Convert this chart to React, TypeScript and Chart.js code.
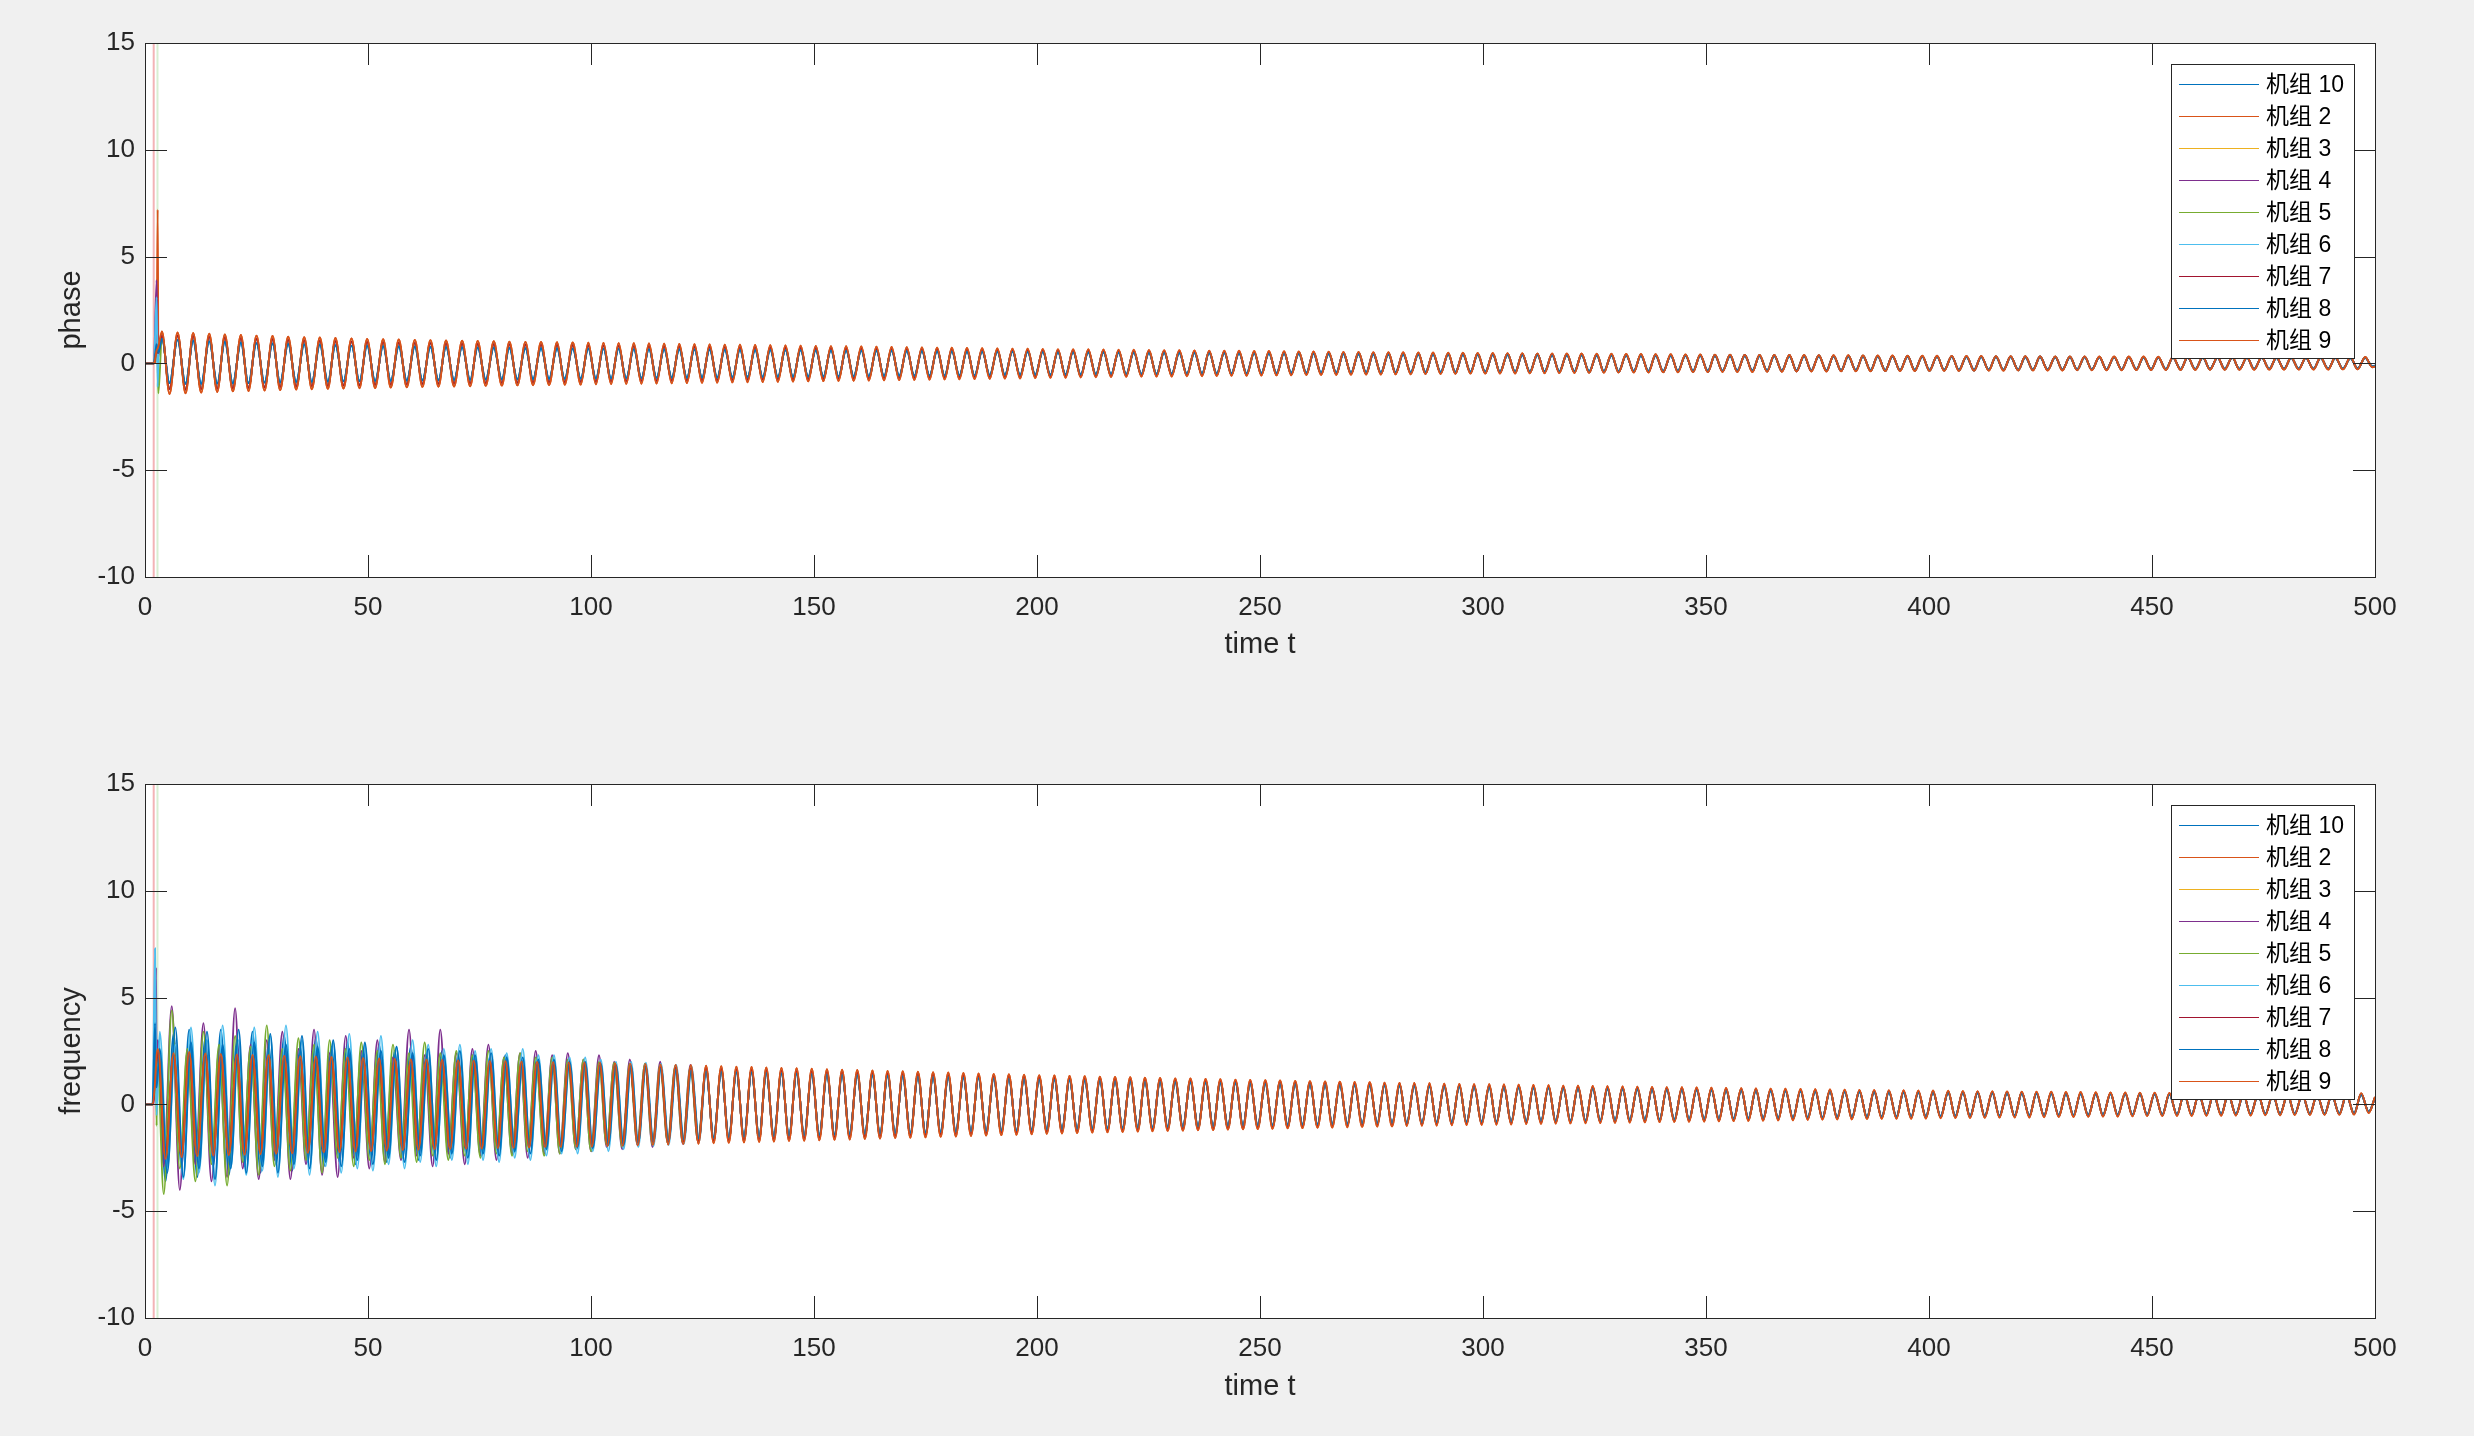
import React, { useEffect, useRef } from 'react';
import { Chart, registerables } from 'chart.js';

Chart.register(...registerables);

// ---------- categories / labels ----------
const seriesNames = ['机组 10', '机组 2', '机组 3', '机组 4', '机组 5', '机组 6', '机组 7', '机组 8', '机组 9'];
const seriesColors = ['#0072BD', '#D95319', '#EDB120', '#7E2F8E', '#77AC30', '#4DBEEE', '#A2142F', '#0072BD', '#D95319'];
const xTickValues = [0, 50, 100, 150, 200, 250, 300, 350, 400, 450, 500];
const yTickValues = [-10, -5, 0, 5, 10, 15];

// near-vertical out-of-range excursions at the start (faint lines)
const spikeT = [1.95, 2.8];
const spikeSpan = [-1000, 1000];
const spikeColors = ['#f3b3b6', '#d8eed2'];

// ---------- phase: start-up samples ----------
const phStartT = [0, 2.0, 2.6, 2.84, 3.0];
const phStart10 = [0, 0, 1.0, 0.6, 0.5];
const phStart2 = [0, 0, 0.5, 7.2, 0.3];
const phStart3 = [0, 0, 0.8, 0.6, 0.5];
const phStart4 = [0, 0, 3.9, 0.6, 0.4];
const phStart5 = [0, 0, 0.8, 0.2, -1.4];
const phStart6 = [0, 0, 3.1, -1.1, 0.3];
const phStart7 = [0, 0, 0.6, 0.5, 0.5];
const phStart8 = [0, 0, 0.9, 0.6, 0.5];
const phStart9 = [0, 0, 0.6, 0.7, 0.8];

// ---------- phase: times of successive peaks / troughs ----------
const tPhase = [
  3.8,5.5,7.3,9.1,10.8,12.6,14.4,16.2,17.9,19.7,21.5,23.2,25.0,26.8,28.6,30.3,32.1,33.9,35.7,37.4,39.2,41.0,42.7,44.5,46.3,48.1,49.8,51.6,53.4,55.1,56.9,58.7,60.5,62.2,64.0,65.8,67.5,69.3,71.1,72.9,74.6,76.4,78.2,80.0,81.7,83.5,85.3,87.0,88.8,90.6,92.4,94.1,95.9,97.7,99.4,101.1,
  102.8,104.5,106.2,107.9,109.6,111.3,113.0,114.7,116.4,118.1,119.8,121.5,123.2,124.9,126.6,128.3,130.0,131.7,133.4,135.1,136.8,138.5,140.2,141.9,143.6,145.3,147.0,148.7,150.4,152.1,153.8,155.5,157.2,158.9,160.6,162.3,164.0,165.7,167.4,169.1,170.8,172.5,174.2,175.9,177.6,179.3,180.9,182.6,184.3,186.0,187.7,189.4,191.1,192.8,194.5,196.2,197.9,199.6,201.3,203.0,204.7,206.4,208.1,209.8,211.5,213.2,214.9,216.6,218.3,220.0,221.7,223.4,225.1,226.8,228.5,230.2,231.9,233.6,
  235.3,237.0,238.6,240.3,242.0,243.6,245.3,247.0,248.7,250.3,252.0,253.7,255.4,257.0,258.7,260.4,262.0,263.7,265.4,267.1,268.7,270.4,272.1,273.8,275.4,277.1,278.8,280.4,282.1,283.8,285.5,287.1,288.8,290.5,292.2,293.8,295.5,297.2,298.8,300.5,
  302.2,303.8,305.5,307.2,308.8,310.5,312.2,313.8,315.5,317.1,318.8,320.5,322.1,323.8,325.5,327.1,328.8,330.4,332.1,333.8,335.4,337.1,338.7,340.4,342.1,343.7,345.4,347.1,348.7,350.4,352.0,353.7,355.4,357.0,358.7,360.4,362.0,363.7,365.3,367.0,368.7,370.3,
  372.0,373.6,375.3,377.0,378.6,380.3,381.9,383.6,385.2,386.9,388.5,390.2,391.8,393.5,395.2,396.8,398.5,400.1,401.8,403.4,405.1,406.7,408.4,410.1,411.7,413.4,415.0,416.7,418.3,420.0,421.6,423.3,424.9,426.6,428.3,429.9,431.6,433.2,434.9,436.5,438.2,439.8,441.5,443.2,444.8,446.5,448.1,449.8,451.4,453.1,454.7,456.4,458.0,459.7,461.4,463.0,464.7,466.3,468.0,469.6,471.3,472.9,474.6,476.3,477.9,479.6,481.2,482.9,484.5,486.2,487.8,489.5,491.1,492.8,494.5,496.1,497.8,499.4,
  500,
];

// outer (orange) phase swing
const pOut = [
  1.49,-1.43,1.45,-1.4,1.42,-1.37,1.39,-1.34,1.36,-1.31,1.33,-1.29,1.3,-1.27,1.28,-1.25,1.25,-1.23,1.23,-1.21,1.21,-1.19,1.19,-1.18,1.17,-1.16,1.15,-1.15,1.13,-1.13,1.12,-1.12,1.1,-1.1,1.09,-1.09,1.07,-1.08,1.06,-1.07,1.05,-1.05,1.04,-1.04,1.02,-1.03,1.01,-1.02,1,-1.01,0.99,-1,0.98,-0.99,0.97,-0.98,
  0.96,-0.97,0.95,-0.96,0.94,-0.95,0.93,-0.94,0.92,-0.93,0.91,-0.92,0.9,-0.91,0.89,-0.9,0.88,-0.89,0.87,-0.88,0.86,-0.87,0.85,-0.86,0.84,-0.85,0.83,-0.84,0.82,-0.83,0.81,-0.82,0.8,-0.81,0.79,-0.8,0.78,-0.79,0.77,-0.78,0.76,-0.77,0.75,-0.76,0.74,-0.75,0.73,-0.74,0.72,-0.73,0.71,-0.72,0.7,-0.71,0.69,-0.7,0.69,-0.69,0.68,-0.68,0.67,-0.67,0.66,-0.66,0.66,-0.65,0.65,-0.64,0.64,-0.63,0.64,-0.62,0.63,-0.62,0.62,-0.61,0.62,-0.6,
  0.61,-0.6,0.6,-0.59,0.6,-0.58,0.59,-0.58,0.58,-0.57,0.58,-0.56,0.57,-0.56,0.56,-0.55,0.56,-0.54,0.55,-0.54,0.54,-0.53,0.54,-0.52,0.53,-0.52,0.52,-0.51,0.52,-0.51,0.51,-0.5,0.51,-0.5,0.5,-0.49,0.5,-0.48,0.49,-0.48,
  0.49,-0.47,0.48,-0.47,0.48,-0.46,0.47,-0.46,0.47,-0.45,0.46,-0.45,0.46,-0.44,0.45,-0.44,0.45,-0.43,0.44,-0.43,0.44,-0.43,0.43,-0.42,0.43,-0.42,0.42,-0.41,0.42,-0.41,0.41,-0.4,0.41,-0.4,0.4,-0.4,0.4,-0.39,0.4,-0.39,0.39,-0.38,
  0.39,-0.38,0.38,-0.38,0.38,-0.37,0.38,-0.37,0.37,-0.37,0.37,-0.36,0.37,-0.36,0.36,-0.36,0.36,-0.35,0.36,-0.35,0.35,-0.35,0.35,-0.34,0.35,-0.34,0.34,-0.34,0.34,-0.33,0.34,-0.33,0.33,-0.33,0.33,-0.33,0.33,-0.32,0.33,-0.32,0.32,-0.32,0.32,-0.32,0.32,-0.31,0.32,-0.31,0.31,-0.31,0.31,-0.31,0.31,-0.3,0.31,-0.3,0.3,-0.3,0.3,-0.3,0.3,-0.3,0.3,-0.29,0.3,-0.29,0.29,-0.29,0.29,-0.29,0.29,-0.29,0.29,-0.28,0.29,-0.28,0.3,-0.18,
  -0.14,
];

// middle phase swing (units 3-7)
const pMid = [
  1.3,-1.2,1.3,-1.22,1.27,-1.2,1.24,-1.18,1.21,-1.16,1.18,-1.14,1.15,-1.12,1.13,-1.1,1.1,-1.08,1.08,-1.06,1.06,-1.05,1.04,-1.03,1.02,-1.02,1,-1,0.99,-0.99,0.97,-0.98,0.96,-0.96,0.95,-0.95,0.93,-0.94,0.92,-0.93,0.91,-0.92,0.9,-0.91,0.89,-0.9,0.88,-0.89,0.87,-0.88,0.86,-0.87,0.85,-0.86,0.84,-0.85,
  0.83,-0.84,0.82,-0.83,0.81,-0.82,0.8,-0.81,0.79,-0.8,0.79,-0.79,0.78,-0.78,0.77,-0.78,0.76,-0.77,0.75,-0.76,0.75,-0.75,0.74,-0.74,0.73,-0.74,0.72,-0.73,0.71,-0.72,0.71,-0.71,0.7,-0.7,0.69,-0.7,0.68,-0.69,0.68,-0.68,0.67,-0.67,0.66,-0.66,0.66,-0.66,0.65,-0.65,0.64,-0.64,0.64,-0.63,0.63,-0.63,0.62,-0.62,0.62,-0.61,0.61,-0.61,0.6,-0.6,0.6,-0.59,0.59,-0.58,0.59,-0.58,0.58,-0.57,0.57,-0.56,0.57,-0.56,0.56,-0.55,0.56,-0.55,
  0.55,-0.54,0.55,-0.54,0.54,-0.53,0.54,-0.53,0.53,-0.52,0.53,-0.52,0.52,-0.51,0.52,-0.51,0.51,-0.5,0.51,-0.5,0.5,-0.49,0.5,-0.49,0.49,-0.48,0.49,-0.48,0.48,-0.47,0.48,-0.47,0.47,-0.46,0.47,-0.46,0.46,-0.45,0.46,-0.45,
  0.45,-0.44,0.45,-0.44,0.44,-0.43,0.44,-0.43,0.43,-0.42,0.43,-0.42,0.43,-0.42,0.42,-0.41,0.42,-0.41,0.41,-0.4,0.41,-0.4,0.41,-0.4,0.4,-0.39,0.4,-0.39,0.4,-0.39,0.39,-0.38,0.39,-0.38,0.39,-0.38,0.38,-0.37,0.38,-0.37,0.38,-0.37,
  0.37,-0.36,0.37,-0.36,0.36,-0.36,0.36,-0.35,0.36,-0.35,0.35,-0.35,0.35,-0.34,0.35,-0.34,0.34,-0.34,0.34,-0.33,0.34,-0.33,0.33,-0.33,0.33,-0.32,0.33,-0.32,0.32,-0.32,0.32,-0.31,0.32,-0.31,0.31,-0.31,0.31,-0.3,0.31,-0.3,0.3,-0.3,0.3,-0.3,0.3,-0.29,0.3,-0.29,0.29,-0.29,0.29,-0.29,0.29,-0.28,0.29,-0.28,0.28,-0.28,0.28,-0.28,0.28,-0.27,0.28,-0.27,0.28,-0.27,0.27,-0.27,0.27,-0.27,0.27,-0.26,0.27,-0.26,0.27,-0.26,0.28,-0.16,
  -0.13,
];

// inner (blue) phase swing
const pIn = [
  1.16,-0.92,1.1,-0.95,1.06,-0.95,1.03,-0.94,1,-0.93,0.97,-0.92,0.95,-0.9,0.93,-0.89,0.91,-0.87,0.89,-0.86,0.87,-0.85,0.85,-0.84,0.83,-0.83,0.82,-0.82,0.8,-0.81,0.79,-0.8,0.78,-0.79,0.77,-0.78,0.76,-0.77,0.75,-0.76,0.74,-0.75,0.73,-0.74,0.72,-0.74,0.71,-0.73,0.71,-0.72,0.7,-0.72,0.69,-0.71,0.69,-0.7,
  0.68,-0.7,0.68,-0.69,0.67,-0.69,0.67,-0.68,0.66,-0.67,0.66,-0.67,0.65,-0.66,0.65,-0.66,0.64,-0.65,0.64,-0.64,0.63,-0.64,0.63,-0.63,0.62,-0.63,0.62,-0.62,0.61,-0.61,0.61,-0.61,0.6,-0.6,0.6,-0.6,0.59,-0.59,0.59,-0.58,0.58,-0.58,0.58,-0.57,0.57,-0.57,0.57,-0.56,0.56,-0.56,0.56,-0.55,0.55,-0.54,0.55,-0.54,0.54,-0.53,0.54,-0.53,0.53,-0.52,0.53,-0.52,0.52,-0.51,0.52,-0.5,0.51,-0.5,0.51,-0.49,0.5,-0.49,0.5,-0.48,0.49,-0.48,
  0.49,-0.47,0.48,-0.47,0.48,-0.46,0.47,-0.46,0.47,-0.45,0.46,-0.45,0.46,-0.44,0.45,-0.44,0.45,-0.43,0.44,-0.43,0.44,-0.43,0.43,-0.42,0.43,-0.42,0.42,-0.41,0.42,-0.41,0.42,-0.4,0.41,-0.4,0.41,-0.4,0.4,-0.39,0.4,-0.39,
  0.4,-0.38,0.39,-0.38,0.39,-0.38,0.39,-0.37,0.38,-0.37,0.38,-0.37,0.38,-0.36,0.37,-0.36,0.37,-0.36,0.37,-0.35,0.36,-0.35,0.36,-0.35,0.36,-0.34,0.35,-0.34,0.35,-0.34,0.35,-0.34,0.34,-0.33,0.34,-0.33,0.34,-0.33,0.34,-0.33,0.33,-0.32,
  0.33,-0.32,0.33,-0.32,0.33,-0.32,0.32,-0.31,0.32,-0.31,0.32,-0.31,0.32,-0.31,0.31,-0.3,0.31,-0.3,0.31,-0.3,0.31,-0.3,0.3,-0.29,0.3,-0.29,0.3,-0.29,0.3,-0.29,0.29,-0.28,0.29,-0.28,0.29,-0.28,0.29,-0.28,0.28,-0.27,0.28,-0.27,0.28,-0.27,0.28,-0.27,0.27,-0.26,0.27,-0.26,0.27,-0.26,0.27,-0.26,0.26,-0.25,0.26,-0.25,0.26,-0.25,0.26,-0.25,0.26,-0.25,0.25,-0.24,0.25,-0.24,0.25,-0.24,0.25,-0.24,0.25,-0.24,0.24,-0.24,0.26,-0.14,
  -0.11,
];

// ---------- frequency: start-up samples ----------
const frStartT = [0, 1.7, 2.25, 2.47, 2.6];
const frStart10 = [0, 0, 2.0, 1.5, 0.5];
const frStart2 = [0, 0, 1.0, 2.0, 2.4];
const frStart3 = [0, 0, 1.5, 2.0, 2.2];
const frStart4 = [0, 0, 1.5, 6.4, 1.0];
const frStart5 = [0, 0, 2.0, 1.5, -1.0];
const frStart6 = [0, 0, 7.3, 2.0, -0.5];
const frStart7 = [0, 0, 1.2, 1.8, 2.0];
const frStart8 = [0, 0, 3.8, 1.0, 0.8];
const frStart9 = [0, 0, 1.0, 1.8, 2.3];

// ---------- frequency: times of successive peaks / troughs ----------
const tFreq = [
  2.9,4.6,6.4,8.2,9.9,11.7,13.5,15.3,17.0,18.8,20.6,22.3,24.1,25.9,27.7,29.4,31.2,33.0,34.8,36.5,38.3,40.1,41.8,43.6,45.4,47.2,48.9,50.7,52.5,54.2,56.0,57.8,59.6,61.3,63.1,64.9,66.6,68.4,70.2,72.0,73.7,75.5,77.3,79.1,80.8,82.6,84.4,86.1,87.9,89.7,91.5,93.2,95.0,96.8,98.5,100.2,
  102.0,103.7,105.4,107.1,108.8,110.5,112.2,113.9,115.6,117.3,119.0,120.7,122.4,124.1,125.8,127.5,129.2,130.9,132.6,134.3,136.0,137.7,139.3,141.0,142.7,144.4,146.1,147.8,149.5,151.2,152.9,154.6,156.3,158.0,159.7,161.4,163.1,164.8,166.5,168.2,169.9,171.6,173.3,175.0,176.7,178.4,180.1,181.8,183.5,185.2,186.9,188.6,190.3,192.0,193.7,195.4,197.1,198.8,200.5,202.2,203.9,205.6,207.3,209.0,210.7,212.4,214.1,215.8,217.5,219.2,220.9,222.6,224.2,225.9,227.6,229.3,231.0,232.7,
  234.4,236.1,237.8,239.5,241.1,242.8,244.5,246.2,247.8,249.5,251.2,252.8,254.5,256.2,257.9,259.5,261.2,262.9,264.6,266.2,267.9,269.6,271.2,272.9,274.6,276.3,277.9,279.6,281.3,282.9,284.6,286.3,288.0,289.6,291.3,293.0,294.7,296.3,298.0,299.7,
  301.4,303.0,304.7,306.3,308.0,309.7,311.3,313.0,314.7,316.3,318.0,319.6,321.3,323.0,324.6,326.3,327.9,329.6,331.3,332.9,334.6,336.3,337.9,339.6,341.2,342.9,344.6,346.2,347.9,349.6,351.2,352.9,354.5,356.2,357.9,359.5,361.2,362.8,364.5,366.2,367.8,369.5,
  371.2,372.8,374.5,376.1,377.8,379.4,381.1,382.7,384.4,386.1,387.7,389.4,391.0,392.7,394.3,396.0,397.6,399.3,400.9,402.6,404.3,405.9,407.6,409.2,410.9,412.5,414.2,415.8,417.5,419.2,420.8,422.5,424.1,425.8,427.4,429.1,430.7,432.4,434.0,435.7,437.4,439.0,440.7,442.3,444.0,445.6,447.3,448.9,450.6,452.3,453.9,455.6,457.2,458.9,460.5,462.2,463.8,465.5,467.1,468.8,470.5,472.1,473.8,475.4,477.1,478.7,480.4,482.0,483.7,485.4,487.0,488.7,490.3,492.0,493.6,495.3,496.9,498.6,
  500,
];

// early extrema times of units that run slightly ahead / behind the common swing
const tFreqLead = [2.75,4.2,6.0,7.8,9.5,11.3,13.1,14.9,16.6,18.4,20.2,21.9,23.7,25.5,27.3,29.0,30.8,32.6,34.4,36.1,37.9,39.7,41.4,43.2,45.0,46.8,48.5,50.3,52.1,53.8,55.6,57.4,59.2,60.9,62.7,64.5,66.2,68.0,69.8,71.7,73.4,75.2,77.0,78.8,80.5,82.3,84.1,85.8,87.6,89.5,91.3,93.0,94.8,96.6,98.3,100.0,101.8,103.5,105.2,107.0,108.7,110.4,112.1,113.8,115.5,117.2,118.9,120.6,122.3,124.0];
const tFreqLag = [3.3,5.0,6.8,8.6,10.3,12.1,13.9,15.7,17.4,19.2,21.0,22.7,24.5,26.3,28.1,29.8,31.6,33.4,35.2,36.9,38.7,40.5,42.2,44.0,45.8,47.6,49.3,51.1,52.9,54.6,56.4,58.2,60.0,61.7,63.5,65.3,67.0,68.8,70.6,72.4,74.0,75.8,77.6,79.4,81.1,82.9,84.7,86.4,88.2,90.0,91.7,93.4,95.2,97.0,98.7,100.4,102.2,103.9,105.6,107.3,109.0,110.6,112.3,114.0,115.7,117.4,119.1,120.8,122.5,124.2];

// outer (orange) frequency swing
const fOut = [
  2.6,-2.55,2.4,-2.47,2.45,-2.42,2.38,-2.4,2.36,-2.38,2.34,-2.36,2.32,-2.33,2.3,-2.31,2.28,-2.29,2.26,-2.27,2.24,-2.25,2.22,-2.23,2.2,-2.21,2.18,-2.19,2.16,-2.17,2.14,-2.15,2.12,-2.13,2.1,-2.11,2.09,-2.1,2.07,-2.08,2.06,-2.07,2.04,-2.05,2.03,-2.04,2.01,-2.02,2,-2.01,1.99,-2,1.98,-1.99,1.97,-1.98,
  1.95,-1.96,1.93,-1.94,1.91,-1.92,1.89,-1.9,1.87,-1.88,1.85,-1.86,1.83,-1.84,1.81,-1.82,1.79,-1.8,1.77,-1.78,1.75,-1.76,1.73,-1.74,1.71,-1.72,1.69,-1.7,1.67,-1.68,1.65,-1.66,1.63,-1.64,1.61,-1.62,1.59,-1.6,1.57,-1.58,1.55,-1.56,1.53,-1.54,1.51,-1.52,1.49,-1.5,1.47,-1.48,1.45,-1.46,1.43,-1.44,1.41,-1.42,1.39,-1.4,1.37,-1.38,1.35,-1.36,1.33,-1.34,1.32,-1.32,1.3,-1.31,1.28,-1.29,1.27,-1.27,1.25,-1.26,1.24,-1.24,1.22,-1.23,
  1.21,-1.21,1.19,-1.2,1.18,-1.18,1.16,-1.17,1.15,-1.15,1.13,-1.14,1.12,-1.12,1.1,-1.11,1.09,-1.09,1.08,-1.08,1.06,-1.07,1.05,-1.05,1.04,-1.04,1.02,-1.03,1.01,-1.01,1,-1,0.99,-0.99,0.97,-0.98,0.96,-0.97,0.95,-0.96,
  0.94,-0.95,0.93,-0.94,0.92,-0.92,0.91,-0.91,0.9,-0.9,0.88,-0.89,0.87,-0.88,0.86,-0.87,0.85,-0.86,0.84,-0.85,0.83,-0.84,0.82,-0.83,0.81,-0.82,0.8,-0.81,0.79,-0.8,0.78,-0.79,0.77,-0.78,0.76,-0.77,0.75,-0.76,0.74,-0.75,0.73,-0.74,
  0.72,-0.72,0.71,-0.71,0.7,-0.7,0.69,-0.7,0.68,-0.69,0.68,-0.68,0.67,-0.67,0.66,-0.67,0.65,-0.66,0.65,-0.65,0.64,-0.64,0.63,-0.64,0.62,-0.63,0.62,-0.62,0.61,-0.61,0.6,-0.61,0.6,-0.6,0.59,-0.59,0.58,-0.59,0.58,-0.58,0.57,-0.57,0.56,-0.57,0.56,-0.56,0.55,-0.55,0.55,-0.55,0.54,-0.54,0.54,-0.54,0.53,-0.53,0.53,-0.53,0.52,-0.52,0.52,-0.52,0.51,-0.51,0.51,-0.51,0.5,-0.5,0.5,-0.5,0.49,-0.49,0.49,-0.49,0.49,-0.48,0.53,-0.4,
  0.35,
];

// middle frequency swing
const fMid = [
  2.45,-2.4,2.3,-2.32,2.3,-2.28,2.24,-2.26,2.22,-2.24,2.2,-2.22,2.18,-2.19,2.16,-2.17,2.14,-2.15,2.12,-2.13,2.1,-2.11,2.08,-2.09,2.06,-2.07,2.04,-2.05,2.02,-2.03,2,-2.01,1.98,-1.99,1.96,-1.97,1.95,-1.96,1.93,-1.94,1.92,-1.93,1.9,-1.91,1.89,-1.9,1.87,-1.88,1.86,-1.87,1.85,-1.86,1.84,-1.85,1.83,-1.84,
  1.82,-1.83,1.8,-1.81,1.78,-1.79,1.76,-1.77,1.74,-1.75,1.72,-1.73,1.7,-1.71,1.68,-1.69,1.66,-1.67,1.64,-1.65,1.62,-1.63,1.6,-1.61,1.58,-1.59,1.56,-1.57,1.54,-1.55,1.52,-1.53,1.5,-1.51,1.48,-1.49,1.47,-1.48,1.45,-1.46,1.43,-1.44,1.41,-1.42,1.39,-1.4,1.37,-1.38,1.35,-1.36,1.33,-1.34,1.31,-1.32,1.3,-1.31,1.28,-1.29,1.26,-1.27,1.25,-1.26,1.23,-1.24,1.22,-1.22,1.2,-1.21,1.18,-1.19,1.17,-1.17,1.15,-1.16,1.14,-1.14,1.13,-1.13,
  1.12,-1.12,1.1,-1.11,1.09,-1.09,1.07,-1.08,1.06,-1.06,1.05,-1.05,1.04,-1.04,1.02,-1.03,1.01,-1.01,1,-1,0.98,-0.99,0.97,-0.97,0.96,-0.96,0.95,-0.95,0.94,-0.94,0.93,-0.93,0.92,-0.92,0.9,-0.91,0.89,-0.9,0.88,-0.89,
  0.87,-0.88,0.86,-0.87,0.85,-0.85,0.84,-0.84,0.83,-0.83,0.82,-0.82,0.81,-0.81,0.8,-0.81,0.79,-0.8,0.78,-0.79,0.77,-0.78,0.76,-0.77,0.75,-0.76,0.74,-0.75,0.73,-0.74,0.72,-0.73,0.71,-0.72,0.71,-0.71,0.7,-0.7,0.69,-0.69,0.68,-0.68,
  0.67,-0.67,0.66,-0.66,0.65,-0.65,0.64,-0.65,0.63,-0.64,0.63,-0.63,0.62,-0.62,0.61,-0.62,0.6,-0.61,0.6,-0.6,0.59,-0.59,0.58,-0.59,0.58,-0.58,0.57,-0.57,0.56,-0.57,0.56,-0.56,0.55,-0.55,0.55,-0.55,0.54,-0.54,0.53,-0.54,0.53,-0.53,0.52,-0.52,0.52,-0.52,0.51,-0.51,0.51,-0.51,0.5,-0.5,0.5,-0.5,0.49,-0.49,0.49,-0.49,0.48,-0.48,0.48,-0.48,0.47,-0.47,0.47,-0.47,0.46,-0.46,0.46,-0.46,0.46,-0.46,0.45,-0.45,0.45,-0.45,0.49,-0.37,
  0.32,
];

// inner (blue) frequency swing
const fIn = [
  2.2,-2.15,2.05,-2.1,2.08,-2.06,2.02,-2.04,2,-2.02,1.99,-2,1.97,-1.98,1.95,-1.96,1.94,-1.95,1.92,-1.93,1.9,-1.91,1.89,-1.9,1.87,-1.88,1.85,-1.86,1.84,-1.84,1.82,-1.83,1.8,-1.81,1.79,-1.79,1.78,-1.78,1.76,-1.77,1.75,-1.76,1.73,-1.74,1.72,-1.73,1.71,-1.72,1.7,-1.71,1.69,-1.7,1.68,-1.69,1.67,-1.68,
  1.66,-1.67,1.64,-1.65,1.62,-1.63,1.61,-1.62,1.59,-1.6,1.57,-1.58,1.56,-1.56,1.54,-1.55,1.52,-1.53,1.5,-1.51,1.49,-1.5,1.47,-1.48,1.45,-1.46,1.44,-1.45,1.42,-1.43,1.4,-1.41,1.39,-1.39,1.37,-1.38,1.35,-1.36,1.33,-1.34,1.32,-1.33,1.3,-1.31,1.28,-1.29,1.27,-1.28,1.25,-1.26,1.23,-1.24,1.22,-1.22,1.2,-1.21,1.18,-1.19,1.16,-1.17,1.15,-1.16,1.13,-1.14,1.12,-1.12,1.11,-1.11,1.09,-1.1,1.08,-1.08,1.06,-1.07,1.05,-1.05,1.04,-1.04,
  1.03,-1.03,1.01,-1.02,1,-1,0.99,-0.99,0.98,-0.98,0.96,-0.97,0.95,-0.95,0.94,-0.94,0.93,-0.93,0.92,-0.92,0.9,-0.91,0.89,-0.89,0.88,-0.88,0.87,-0.87,0.86,-0.86,0.85,-0.85,0.84,-0.84,0.83,-0.83,0.82,-0.82,0.81,-0.81,
  0.8,-0.81,0.79,-0.8,0.78,-0.78,0.77,-0.77,0.77,-0.77,0.75,-0.76,0.74,-0.75,0.73,-0.74,0.72,-0.73,0.71,-0.72,0.71,-0.71,0.7,-0.71,0.69,-0.7,0.68,-0.69,0.67,-0.68,0.66,-0.67,0.65,-0.66,0.65,-0.65,0.64,-0.65,0.63,-0.64,0.62,-0.63,
  0.61,-0.61,0.6,-0.6,0.6,-0.6,0.59,-0.59,0.58,-0.59,0.58,-0.58,0.57,-0.57,0.56,-0.57,0.55,-0.56,0.55,-0.55,0.54,-0.54,0.54,-0.54,0.53,-0.54,0.53,-0.53,0.52,-0.52,0.51,-0.52,0.51,-0.51,0.5,-0.5,0.49,-0.5,0.49,-0.49,0.48,-0.48,0.48,-0.48,0.48,-0.48,0.47,-0.47,0.47,-0.47,0.46,-0.46,0.46,-0.46,0.45,-0.45,0.45,-0.45,0.44,-0.44,0.44,-0.44,0.43,-0.43,0.43,-0.43,0.43,-0.43,0.43,-0.43,0.42,-0.42,0.42,-0.42,0.42,-0.41,0.45,-0.34,
  0.3,
];

// irregular early swings (first 70 extrema) of individual units
const fEarly4 = [3,-2.9,4.6,-4,2.5,-2.8,3.8,-3.6,2.6,-3.4,4.5,-3,2.8,-3.5,3,-2.6,3.4,-3.5,2.6,-2.8,3.5,-3.3,2.4,-3.4,3.2,-2.5,2.5,-3,3,-2.7,2.2,-2.6,3.5,-2.4,2.3,-2.9,3.5,-2.3,2.4,-2.8,2.6,-2.4,2.8,-2.6,2.2,-2.3,2.4,-2.5,2.5,-2.3,2.3,-2.3,2.4,-2.1,2.1,-2.2,2.3,-2,2,-2.1,2.1,-1.9,1.9,-2,2,-1.8,1.8,-1.85,1.85,-1.75];
const fEarly6 = [3.4,-3,2.8,-3.5,3.6,-3.2,3,-3.8,3.7,-3,3,-3.3,3.6,-3.1,3.2,-3.4,3.7,-3,3,-3.3,3.4,-2.9,2.9,-3.2,3.3,-3,2.8,-3.1,3.2,-2.8,2.7,-3,3,-2.7,2.8,-2.9,2.6,-2.6,2.8,-2.8,2.5,-2.6,2.6,-2.7,2.4,-2.5,2.6,-2.6,2.3,-2.4,2.3,-2.3,2.2,-2.3,2.2,-2.2,2.1,-2.2,2,-2.1,2,-2,1.95,-1.95,1.9,-1.9,1.85,-1.85,1.8,-1.75];
const fEarly5 = [2.4,-4.2,4.4,-3,2.6,-3.6,3.4,-2.8,2.8,-3.8,3.2,-2.7,2.7,-3.3,3.7,-2.9,2.6,-3.1,3.1,-2.6,2.8,-3.2,3,-2.5,2.6,-2.9,2.9,-2.6,2.5,-2.8,2.8,-2.5,2.4,-2.7,2.9,-2.4,2.4,-2.6,2.5,-2.4,2.3,-2.5,2.5,-2.3,2.2,-2.4,2.4,-2.2,2.2,-2.4,2.2,-2.3,2.1,-2.1,2.1,-2.2,2,-1.9,1.95,-2,1.9,-1.85,1.9,-1.9,1.85,-1.8,1.8,-1.8,1.75,-1.72];
const fEarly10 = [3,-3.6,3.3,-2.9,3.5,-3.4,3.1,-2.9,3.5,-3.3,3,-2.9,3.4,-3.2,2.8,-2.8,3.2,-3.1,2.7,-2.7,3.1,-2.9,2.7,-2.7,2.9,-2.8,2.6,-2.6,2.8,-2.7,2.5,-2.5,2.7,-2.6,2.4,-2.4,2.5,-2.5,2.3,-2.3,2.4,-2.4,2.2,-2.2,2.3,-2.3,2.1,-2.1,2.2,-2.2,2,-2,2.1,-2.1,1.95,-1.95,1.9,-1.9,1.85,-1.85,1.8,-1.8,1.75,-1.72,1.7,-1.7,1.65,-1.65,1.6,-1.6];
const fEarly8 = [2.6,-3.2,3.6,-3.4,2.9,-3,3.4,-3.5,2.8,-3,3.5,-3.2,2.9,-2.9,3.3,-3.2,2.8,-2.8,3.2,-3,2.7,-2.7,3,-2.9,2.6,-2.6,2.9,-2.8,2.5,-2.5,2.7,-2.7,2.4,-2.4,2.6,-2.6,2.3,-2.3,2.5,-2.5,2.3,-2.3,2.4,-2.4,2.2,-2.2,2.2,-2.3,2.1,-2.1,2.1,-2.2,2,-2,2,-2.05,1.9,-1.9,1.85,-1.9,1.8,-1.8,1.75,-1.75,1.7,-1.7,1.65,-1.65,1.6,-1.6];

// ---------- assembly ----------
type P = { x: number; y: number };
const pts = (ts: number[], vs: number[]): P[] =>
  ts.map((x, i) => ({ x, y: vs[i] })).filter((p) => p.y !== undefined);
const N_EARLY = 70;
const tFreqTail = tFreq.slice(N_EARLY);

const phaseLines: P[][] = [
  [...pts(phStartT, phStart10), ...pts(tPhase, pIn)],
  [...pts(phStartT, phStart2), ...pts(tPhase, pOut)],
  [...pts(phStartT, phStart3), ...pts(tPhase, pMid)],
  [...pts(phStartT, phStart4), ...pts(tPhase, pMid)],
  [...pts(phStartT, phStart5), ...pts(tPhase, pMid)],
  [...pts(phStartT, phStart6), ...pts(tPhase, pMid)],
  [...pts(phStartT, phStart7), ...pts(tPhase, pMid)],
  [...pts(phStartT, phStart8), ...pts(tPhase, pIn)],
  [...pts(phStartT, phStart9), ...pts(tPhase, pOut)],
];

const freqLines: P[][] = [
  [...pts(frStartT, frStart10), ...pts(tFreq.slice(0, N_EARLY), fEarly10), ...pts(tFreqTail, fIn.slice(N_EARLY))],
  [...pts(frStartT, frStart2), ...pts(tFreq, fOut)],
  [...pts(frStartT, frStart3), ...pts(tFreq, fMid)],
  [...pts(frStartT, frStart4), ...pts(tFreqLead, fEarly4), ...pts(tFreqTail, fMid.slice(N_EARLY))],
  [...pts(frStartT, frStart5), ...pts(tFreqLead, fEarly5), ...pts(tFreqTail, fMid.slice(N_EARLY))],
  [...pts(frStartT, frStart6), ...pts(tFreqLag, fEarly6), ...pts(tFreqTail, fMid.slice(N_EARLY))],
  [...pts(frStartT, frStart7), ...pts(tFreq, fMid)],
  [...pts(frStartT, frStart8), ...pts(tFreqLag, fEarly8), ...pts(tFreqTail, fIn.slice(N_EARLY))],
  [...pts(frStartT, frStart9), ...pts(tFreq, fOut)],
];

// ---------- styling ----------
const FONT = '"Liberation Sans", Arial, Helvetica, sans-serif';
const AXIS_COLOR = '#262626';
const tickFont = { family: FONT, size: 26 };
const titleFont = { family: FONT, size: 29 };

const matlabAxes = {
  id: 'matlabAxes',
  beforeDraw(chart: any) {
    const { ctx, chartArea: a } = chart;
    ctx.save();
    ctx.fillStyle = '#ffffff';
    ctx.fillRect(a.left, a.top, a.right - a.left, a.bottom - a.top);
    ctx.restore();
  },
  afterDatasetsDraw(chart: any) {
    const { ctx, chartArea: a, scales } = chart;
    const L = 22;
    ctx.save();
    ctx.strokeStyle = AXIS_COLOR;
    ctx.lineWidth = 1;
    ctx.beginPath();
    scales.x.ticks.forEach((t: any) => {
      const px = Math.round(scales.x.getPixelForValue(t.value)) + 0.5;
      ctx.moveTo(px, a.bottom);
      ctx.lineTo(px, a.bottom - L);
      ctx.moveTo(px, a.top);
      ctx.lineTo(px, a.top + L);
    });
    scales.y.ticks.forEach((t: any) => {
      const py = Math.round(scales.y.getPixelForValue(t.value)) + 0.5;
      ctx.moveTo(a.left, py);
      ctx.lineTo(a.left + L, py);
      ctx.moveTo(a.right, py);
      ctx.lineTo(a.right - L, py);
    });
    ctx.stroke();
    ctx.strokeRect(Math.round(a.left) + 0.5, Math.round(a.top) + 0.5, Math.round(a.right - a.left), Math.round(a.bottom - a.top));
    ctx.restore();
  },
  afterDraw(chart: any) {
    const { ctx, chartArea: a } = chart;
    const items = chart.data.datasets.filter((d: any) => d.inLegend);
    const w = 183;
    const h = 294;
    const x0 = Math.round(a.right - 21 - w);
    const y0 = Math.round(a.top + 21);
    ctx.save();
    ctx.fillStyle = '#ffffff';
    ctx.fillRect(x0, y0, w, h);
    ctx.strokeStyle = AXIS_COLOR;
    ctx.lineWidth = 1;
    ctx.strokeRect(x0 + 0.5, y0 + 0.5, w, h);
    ctx.font = `23px ${FONT}, "Noto Sans CJK SC", sans-serif`;
    ctx.textBaseline = 'middle';
    ctx.textAlign = 'left';
    items.forEach((d: any, i: number) => {
      const cy = y0 + 20 + i * 32;
      ctx.strokeStyle = d.borderColor;
      ctx.lineWidth = 1.2;
      ctx.beginPath();
      ctx.moveTo(x0 + 8, cy + 0.5);
      ctx.lineTo(x0 + 88, cy + 0.5);
      ctx.stroke();
      ctx.fillStyle = '#000000';
      ctx.fillText(d.label, x0 + 95, cy + 2);
    });
    ctx.restore();
  },
};

function makeConfig(lines: P[][], yTitle: string, padTop: number, xAxisH: number, xTitlePad: number): any {
  const datasets: any[] = lines.map((data, i) => ({
    label: seriesNames[i],
    data,
    borderColor: seriesColors[i],
    backgroundColor: seriesColors[i],
    borderWidth: 1.9,
    pointRadius: 0,
    cubicInterpolationMode: 'monotone',
    fill: false,
    order: -i,
    inLegend: true,
  }));
  spikeT.forEach((t, j) => {
    datasets.push({
      label: '',
      data: spikeSpan.map((y) => ({ x: t, y })),
      borderColor: spikeColors[j],
      borderWidth: 2,
      pointRadius: 0,
      fill: false,
      order: 20,
      inLegend: false,
    });
  });
  return {
    type: 'line',
    data: { datasets },
    options: {
      responsive: false,
      animation: false,
      devicePixelRatio: 1,
      events: [],
      layout: { padding: { top: padTop, right: 99, bottom: 0, left: 0 } },
      plugins: { legend: { display: false }, tooltip: { enabled: false } },
      scales: {
        x: {
          type: 'linear',
          min: 0,
          max: 500,
          afterBuildTicks: (s: any) => {
            s.ticks = xTickValues.map((v) => ({ value: v }));
          },
          afterFit: (s: any) => {
            s.height = xAxisH;
          },
          grid: { display: false, drawTicks: false },
          border: { display: false },
          ticks: { padding: 15, font: tickFont, color: AXIS_COLOR, maxRotation: 0, autoSkip: false },
          title: { display: true, text: 'time t', font: titleFont, color: AXIS_COLOR, padding: { top: 0, bottom: xTitlePad } },
        },
        y: {
          type: 'linear',
          min: -10,
          max: 15,
          afterBuildTicks: (s: any) => {
            s.ticks = yTickValues.map((v) => ({ value: v }));
          },
          afterFit: (s: any) => {
            s.width = 145;
          },
          grid: { display: false, drawTicks: false },
          border: { display: false },
          ticks: { padding: 10, font: tickFont, color: AXIS_COLOR, autoSkip: false },
          title: { display: true, text: yTitle, font: titleFont, color: AXIS_COLOR, padding: { top: 55, bottom: 0 } },
        },
      },
    },
    plugins: [matlabAxes],
  };
}

export default function App() {
  const topRef = useRef<HTMLCanvasElement>(null);
  const botRef = useRef<HTMLCanvasElement>(null);

  useEffect(() => {
    const c1 = new Chart(topRef.current as HTMLCanvasElement, makeConfig(phaseLines, 'phase', 43, 141, 55.6));
    const c2 = new Chart(botRef.current as HTMLCanvasElement, makeConfig(freqLines, 'frequency', 66, 118, 31.6));
    return () => {
      c1.destroy();
      c2.destroy();
    };
  }, []);

  return (
    <div style={{ position: 'fixed', left: 0, top: 0, width: 2474, height: 1436, background: '#f0f0f0', overflow: 'hidden' }}>
      <canvas ref={topRef} width={2474} height={718} style={{ position: 'absolute', left: 0, top: 0, width: 2474, height: 718 }} />
      <canvas ref={botRef} width={2474} height={718} style={{ position: 'absolute', left: 0, top: 718, width: 2474, height: 718 }} />
    </div>
  );
}
